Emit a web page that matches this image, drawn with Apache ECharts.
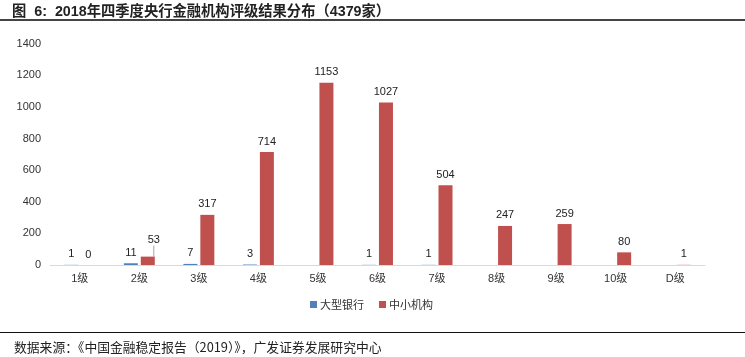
<!DOCTYPE html>
<html>
<head>
<meta charset="utf-8">
<script src="https://cdn.jsdelivr.net/npm/echarts@6/dist/echarts.min.js"></script>
<style>
html,body{margin:0;padding:0;background:#fff;}
#c{width:745px;height:357px;}
</style>
</head>
<body>
<div id="c"></div>
<script>
const categories = ['1级','2级','3级','4级','5级','6级','7级','8级','9级','10级','D级'];
const largeBanks = [1, 11, 7, 3, null, 1, 1, null, null, null, null];
const smallMidInst = [0, 53, 317, 714, 1153, 1027, 504, 247, 259, 80, 1];
const yTicks = [0, 200, 400, 600, 800, 1000, 1200, 1400];
const seriesNames = ['大型银行', '中小机构'];
const titleText = '图  6:  2018年四季度央行金融机构评级结果分布（4379家）';
const sourceText = '数据来源：《中国金融稳定报告（2019）》，广发证券发展研究中心';

const chart = echarts.init(document.getElementById('c'), null, {renderer: 'canvas'});
const numFont = 'Liberation Sans, Arial, sans-serif';
const cjkFont = 'Liberation Sans, "Noto Sans CJK SC", sans-serif';
chart.setOption({
  animation: false,
  backgroundColor: '#fff',
  title: [{
    text: titleText,
    left: 7, top: 0,
    textStyle: {fontSize: 14.3, fontWeight: 'bold', color: '#222', fontFamily: cjkFont}
  }, {
    text: sourceText,
    left: 9, top: 336,
    textStyle: {fontSize: 12.8, fontWeight: 'normal', color: '#222', fontFamily: '"Noto Sans CJK SC", sans-serif'}
  }],
  graphic: [
    {type: 'rect', shape: {x: 0, y: 19, width: 745, height: 2}, style: {fill: '#444'}},
    {type: 'rect', shape: {x: 0, y: 332, width: 745, height: 1}, style: {fill: '#111'}}
  ],
  legend: {
    data: seriesNames,
    bottom: 42,
    left: 305,
    itemWidth: 7, itemHeight: 7, itemGap: 15,
    icon: 'rect',
    textStyle: {fontSize: 11, color: '#333', fontFamily: '"Noto Sans CJK SC", sans-serif', padding: [0,0,0,-2]}
  },
  grid: {left: 50, right: 40, top: 43.6, bottom: 92, containLabel: false},
  xAxis: {
    type: 'category',
    data: categories,
    axisLine: {lineStyle: {color: '#D9D9D9', width: 1}},
    axisTick: {show: false},
    axisLabel: {fontSize: 11, color: '#333', margin: 8, fontFamily: cjkFont}
  },
  yAxis: {
    type: 'value',
    min: yTicks[0], max: yTicks[yTicks.length - 1], interval: yTicks[1] - yTicks[0],
    axisLine: {show: false},
    axisTick: {show: false},
    splitLine: {show: false},
    axisLabel: {fontSize: 11, color: '#333', margin: 9, fontFamily: numFont, formatter: function (v) { return String(v); }}
  },
  series: [{
    name: seriesNames[0],
    type: 'bar',
    data: largeBanks,
    barWidth: 14,
    barGap: '21%',
    itemStyle: {color: '#4F81BD'},
    label: {show: true, position: 'top', distance: 5, fontSize: 11, color: '#222', fontFamily: numFont}
  }, {
    name: seriesNames[1],
    type: 'bar',
    data: smallMidInst.map(function (v, i) {
      return i === 1 ? {value: v, labelLine: {show: true, lineStyle: {color: '#A6A6A6', width: 1}}} : v;
    }),
    barWidth: 14,
    barGap: '21%',
    itemStyle: {color: '#C0504D'},
    label: {show: true, position: 'top', distance: 5, fontSize: 11, color: '#222', fontFamily: numFont},
    labelLine: {show: false},
    labelLayout: function (p) {
      if (p.dataIndex === 1) return {dx: 6, dy: -6};
      return {};
    }
  }]
});
</script>
</body>
</html>
